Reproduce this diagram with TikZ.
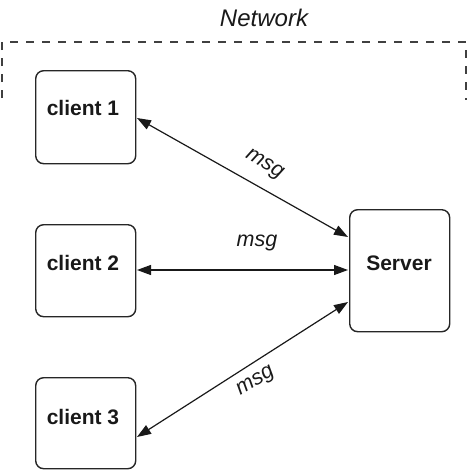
\documentclass[tikz,border=0pt]{standalone}
\usepackage{fontspec}
\setmainfont{Liberation Sans}
\usetikzlibrary{arrows.meta}
\begin{document}
\begin{tikzpicture}[x=1pt,y=-1pt,
  box/.style={draw=black!85,line width=1.4pt,rounded corners=8pt,minimum width=100pt,inner sep=0pt},
  lbl/.style={font=\fontsize{21}{25}\selectfont\bfseries,text=black!90},
  msglbl/.style={font=\fontsize{21.5}{25}\selectfont\itshape,text=black!90,inner sep=1pt},
  conn/.style={line width=1.2pt,draw=black!90,{Triangle[length=14pt,width=10pt]}-{Triangle[length=14pt,width=10pt]}},
  net/.style={draw=black!75,line width=2pt,dash pattern=on 8pt off 8pt}]
\useasboundingbox (0,0) rectangle (474,474);
\node[box,minimum height=93pt,anchor=north west] (c1) at (35,70) {};
\node[lbl] at (83,108) {client 1};
\node[box,minimum height=92pt,anchor=north west] (c2) at (35,224) {};
\node[lbl] at (83,263) {client 2};
\node[box,minimum height=91pt,anchor=north west] (c3) at (35,377) {};
\node[lbl] at (83,417) {client 3};
\node[box,minimum height=122pt,anchor=north west] (srv) at (349,209) {};
\node[lbl] at (399,263) {Server};
\node[msglbl,font=\fontsize{24}{28}\selectfont\itshape] (net) at (264,18) {Network};
\coordinate (nl) at (2,98);
\coordinate (nlt) at (2,42);
\coordinate (nrt) at (466,42);
\coordinate (nr) at (466,100);
\draw[net] (nl) -- (nlt) -- (nrt) -- (nr);
\coordinate (a1) at (137,118);
\coordinate (b1) at (348,237);
\coordinate (a2) at (137,270);
\coordinate (b2) at (348,270);
\coordinate (a3) at (137,437);
\coordinate (b3) at (348,302);
\draw[conn] (a1) -- (b1);
\draw[conn] (a2) -- (b2);
\draw[conn] (a3) -- (b3);
\node[msglbl,rotate=-31] at (264,165) {msg};
\node[msglbl] at (257,243) {msg};
\node[msglbl,rotate=31] at (256,382) {msg};
\end{tikzpicture}
\end{document}
